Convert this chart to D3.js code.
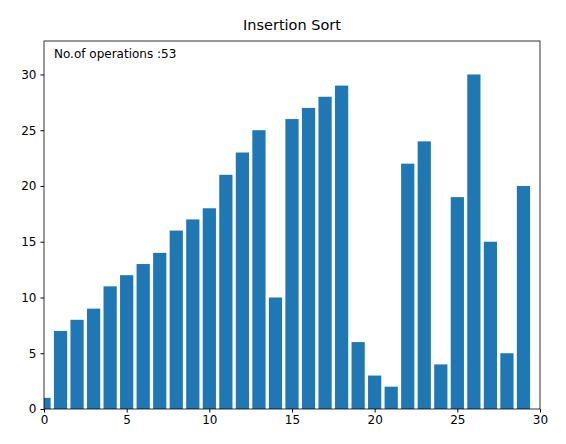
<!DOCTYPE html>
<html><head><meta charset="utf-8">
<script src="https://cdn.jsdelivr.net/npm/d3@7"></script>
<style>body{margin:0;background:#fff}text{font-family:"DejaVu Sans",sans-serif}</style>
</head><body>
<svg id="chart" width="566" height="444"></svg>
<script>
var values = [1,7,8,9,11,12,13,14,16,17,18,21,23,25,10,26,27,28,29,6,3,2,22,24,4,19,30,15,5,20];
var xTicks = [0,5,10,15,20,25,30];
var yTicks = [0,5,10,15,20,25,30];
var title = "Insertion Sort";
var note = "No.of operations :53";

var m = {left: 44, right: 26, top: 41, bottom: 35};
var W = 566, H = 444;
var svg = d3.select("#chart");

var x = d3.scaleLinear().domain([0, 30]).range([m.left, W - m.right]);
var y = d3.scaleLinear().domain([0, 33]).range([H - m.bottom, m.top]);

svg.append("clipPath").attr("id", "clip")
  .append("rect").attr("x", m.left).attr("y", m.top)
  .attr("width", W - m.right - m.left).attr("height", H - m.bottom - m.top);

svg.append("g").attr("clip-path", "url(#clip)")
  .selectAll("rect").data(values).enter().append("rect")
    .attr("x", (d, i) => x(i - 0.4))
    .attr("width", x(0.8) - x(0))
    .attr("y", d => y(d))
    .attr("height", d => y(0) - y(d))
    .attr("fill", "#1f77b4");

svg.append("g").attr("transform", `translate(0,${H - m.bottom})`)
  .call(d3.axisBottom(x).tickValues(xTicks).tickSize(3.5).tickPadding(3))
  .call(g => g.select(".domain").remove())
  .selectAll("text").attr("font-size", 12).attr("fill", "#000");

svg.append("g").attr("transform", `translate(${m.left},0)`)
  .call(d3.axisLeft(y).tickValues(yTicks).tickSize(3.5).tickPadding(4))
  .call(g => g.select(".domain").remove())
  .selectAll("text").attr("font-size", 12).attr("fill", "#000");

svg.append("rect").attr("x", m.left).attr("y", m.top)
  .attr("width", W - m.right - m.left).attr("height", H - m.bottom - m.top)
  .attr("fill", "none").attr("stroke", "#000").attr("stroke-width", 0.8);

svg.append("text").attr("x", (m.left + W - m.right) / 2).attr("y", 30)
  .attr("text-anchor", "middle").attr("font-size", 14.5).text(title);

svg.append("text").attr("x", 54).attr("y", 58)
  .attr("font-size", 12).text(note);
</script>
</body></html>
